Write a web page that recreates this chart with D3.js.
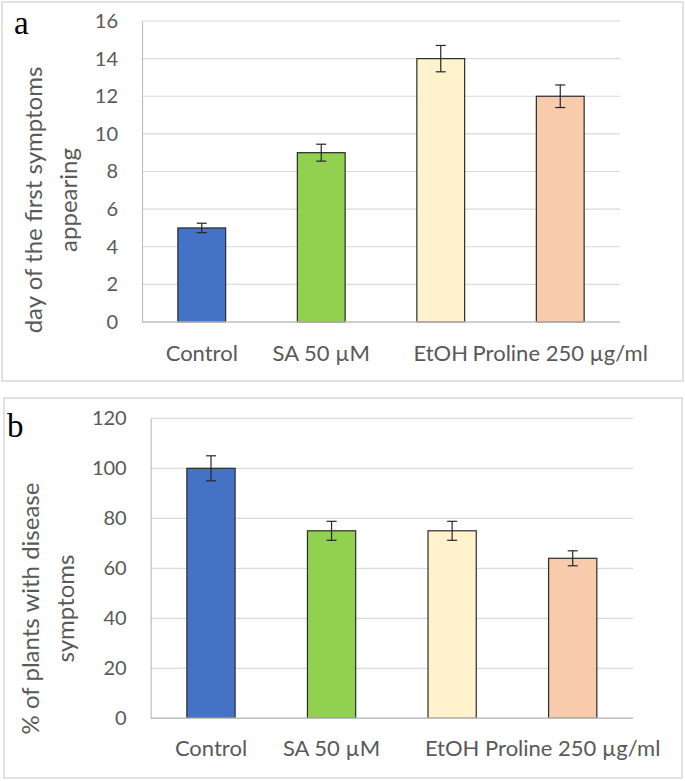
<!DOCTYPE html>
<html><head><meta charset="utf-8">
<script src="https://cdn.jsdelivr.net/npm/d3@7"></script>
<style>body{margin:0;background:#fff}svg{display:block}</style>
</head><body>
<svg id="c" width="685" height="781"></svg>
<script>
const categories = ["Control", "SA 50 µM", "EtOH", "Proline 250 µg/ml"];
const colors = ["#4472C4", "#92D050", "#FFF2CC", "#F8CBAD"];
const dayValues = [5, 9, 14, 12];
const dayErrors = [0.25, 0.45, 0.7, 0.6];
const dayTicks = [0, 2, 4, 6, 8, 10, 12, 14, 16];
const pctValues = [100, 75, 75, 64];
const pctErrors = [5, 3.8, 3.8, 3];
const pctTicks = [0, 20, 40, 60, 80, 100, 120];

const svg = d3.select("#c");
const FONT = "Lato, 'Open Sans', sans-serif";
const TXT = "#595959";

function panel(cfg) {
  const g = svg.append("g");
  g.append("rect").attr("x", cfg.box[0]).attr("y", cfg.box[1]).attr("width", cfg.box[2]).attr("height", cfg.box[3])
    .attr("fill", "#fff").attr("stroke", "#d9d9d9").attr("stroke-width", 1.5);
  const x = d3.scaleBand().domain(categories).range([cfg.x0, cfg.x1]).paddingInner(0.6).paddingOuter(0.3);
  const y = d3.scaleLinear().domain([0, cfg.max]).range([cfg.y0, cfg.yTop]);
  // gridlines
  g.append("g").selectAll("line").data(cfg.ticks.filter(t => t > 0)).join("line")
    .attr("x1", cfg.x0).attr("x2", cfg.x1).attr("y1", d => y(d)).attr("y2", d => y(d))
    .attr("stroke", "#d9d9d9").attr("stroke-width", 1.2);
  // y axis
  const ya = g.append("g").attr("transform", `translate(${cfg.x0},0)`)
    .call(d3.axisLeft(y).tickValues(cfg.ticks).tickSize(0).tickPadding(24));
  ya.select(".domain").attr("stroke", "#bfbfbf").attr("stroke-width", 1.2);
  ya.selectAll("text").attr("font-family", FONT).attr("font-size", 20).attr("fill", TXT);
  // bars
  g.append("g").selectAll("rect").data(cfg.values).join("rect")
    .attr("x", (d, i) => x(categories[i])).attr("width", x.bandwidth())
    .attr("y", d => y(d)).attr("height", d => cfg.y0 - y(d))
    .attr("fill", (d, i) => colors[i]).attr("stroke", "#2b2b2b").attr("stroke-width", 1.2);
  // x baseline
  g.append("line").attr("x1", cfg.x0).attr("x2", cfg.x1).attr("y1", cfg.y0).attr("y2", cfg.y0)
    .attr("stroke", "#bfbfbf").attr("stroke-width", 1.5);
  // x labels
  const xa = g.append("g").attr("transform", `translate(0,${cfg.y0})`)
    .call(d3.axisBottom(x).tickSize(0).tickPadding(0));
  xa.select(".domain").remove();
  xa.selectAll("text").attr("font-family", FONT).attr("font-size", 22).attr("fill", TXT)
    .attr("dy", null).attr("y", cfg.labelY - cfg.y0);
  // error bars
  const eb = g.append("g").attr("stroke", "#262626").attr("stroke-width", 1.2);
  cfg.values.forEach((v, i) => {
    const cx = x(categories[i]) + x.bandwidth() / 2;
    const e = cfg.errors[i];
    eb.append("line").attr("x1", cx).attr("x2", cx).attr("y1", y(v + e)).attr("y2", y(v - e));
    eb.append("line").attr("x1", cx - 5).attr("x2", cx + 5).attr("y1", y(v + e)).attr("y2", y(v + e));
    eb.append("line").attr("x1", cx - 5).attr("x2", cx + 5).attr("y1", y(v - e)).attr("y2", y(v - e));
  });
  // y title
  const t = g.append("text").attr("transform", `translate(0,${cfg.titleCY}) rotate(-90)`)
    .attr("text-anchor", "middle").attr("font-family", FONT).attr("font-size", 24).attr("fill", TXT);
  cfg.title.forEach((line, k) => {
    t.append("tspan").attr("x", 0).attr("y", cfg.titleX[k]).text(line);
  });
  // panel letter
  g.append("text").attr("x", cfg.letterPos[0]).attr("y", cfg.letterPos[1])
    .attr("font-family", "'Liberation Serif', 'Times New Roman', serif").attr("font-size", 33)
    .attr("fill", "#000").text(cfg.letter);
}

panel({
  box: [2, 2, 681, 379], x0: 142, x1: 620, y0: 322, yTop: 21, max: 16,
  ticks: dayTicks, values: dayValues, errors: dayErrors, labelY: 361,
  title: ["day of the first symptoms", "appearing"], titleCY: 200, titleX: [42, 77],
  letter: "a", letterPos: [14, 34]
});
panel({
  box: [4, 398, 678, 380], x0: 150.7, x1: 633, y0: 718.3, yTop: 418.3, max: 120,
  ticks: pctTicks, values: pctValues, errors: pctErrors, labelY: 756,
  title: ["% of plants with disease", "symptoms"], titleCY: 608.5, titleX: [39, 74],
  letter: "b", letterPos: [7, 437]
});
</script>
</body></html>
